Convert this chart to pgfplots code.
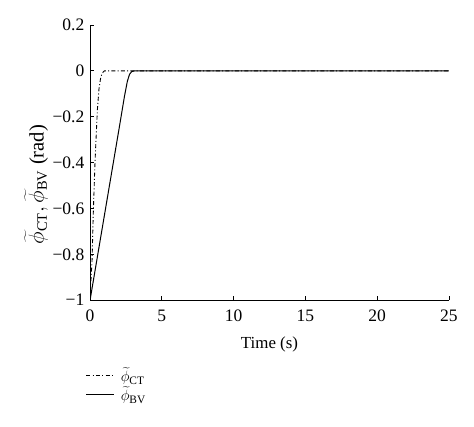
\documentclass[border=0pt]{standalone}
\usepackage{fontspec}
\setmainfont{Liberation Serif}
\usepackage{pgfplots}
\pgfplotsset{compat=1.18}

\begin{document}
\begin{tikzpicture}
\begin{axis}[
    name=ax,
    scale only axis,
    width=287pt, height=220pt,
    xmin=0, xmax=25, ymin=-1, ymax=0.2,
    axis lines*=left,
    axis line style={-, line width=0.8pt},
    tick align=inside,
    major tick length=3pt,
    tick style={black, line width=0.6pt},
    xtick={0,5,...,25},
    ytick={-1,-0.8,-0.6,-0.4,-0.2,0,0.2},
    yticklabels={−1,−0.8,−0.6,−0.4,−0.2,0,0.2},
    /pgf/number format/assume math mode=true,
    tick label style={font=\fontsize{14}{16}\selectfont},
    xticklabel style={yshift=-4pt},
    yticklabel style={xshift=-1pt},
    xlabel={Time (s)},
    ylabel={$\widetilde{\phi}_{\mathrm{CT}}, \widetilde{\phi}_{\mathrm{BV}}$ (rad)},
    xlabel style={font=\fontsize{13.5}{15}\selectfont, at={(rel axis cs:0.5,-0.16)}, anchor=center},
    ylabel style={font=\fontsize{16.5}{18}\selectfont, at={(rel axis cs:-0.15,0.42)}, anchor=center},
    legend style={draw=none, fill=none, at={(rel axis cs:-0.012,-0.245)}, anchor=north west,
        font=\fontsize{13}{15}\selectfont, row sep=2.5pt, inner sep=0pt,
        nodes={inner ysep=0pt, inner xsep=5pt}},
    legend cell align=left,
    legend image code/.code={\draw[#1] (0pt,0pt) -- (22pt,0pt);},
]
\addplot[black, line width=0.7pt, dash pattern=on 3.2pt off 1.8pt on 0.8pt off 1.8pt] coordinates {
    (0,-1) (0.05,-0.93) (0.14,-0.825) (0.23,-0.61) (0.35,-0.39)
    (0.51,-0.17) (0.62,-0.08) (0.74,-0.03) (0.85,-0.01) (1.0,0) (25,0)
};
\addlegendentry{$\widetilde{\phi}_{\mathrm{CT}}$}
\addplot[black, line width=0.8pt] coordinates {
    (0,-1) (0.5,-0.815) (1,-0.63) (1.5,-0.445) (2,-0.26) (2.4,-0.11)
    (2.6,-0.045) (2.75,-0.015) (2.9,-0.003) (3.1,0) (25,0)
};
\addlegendentry{$\widetilde{\phi}_{\mathrm{BV}}$}
\end{axis}
\path ([xshift=-72pt,yshift=-100.8pt]ax.south west) rectangle ([xshift=20pt,yshift=20pt]ax.north east);
\end{tikzpicture}
\end{document}
